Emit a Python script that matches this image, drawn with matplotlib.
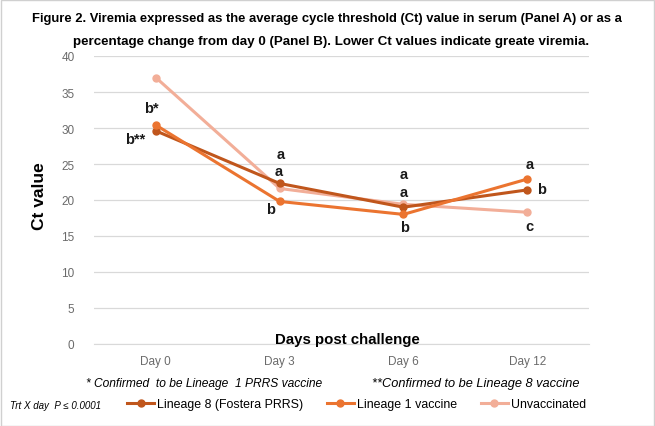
import numpy as np
import matplotlib
matplotlib.use("Agg")
from matplotlib import pyplot as plt

days = ['Day 0', 'Day 3', 'Day 6', 'Day 12']
lineage8 = [29.6, 22.3, 19.0, 21.4]
lineage1 = [30.4, 19.8, 18.0, 22.9]
unvacc = [37.0, 21.6, 19.4, 18.3]
series_names = ['Lineage 8 (Fostera PRRS)', 'Lineage 1 vaccine', 'Unvaccinated']
colors = ['#C0561C', '#EB7430', '#F2AE98']

# significance letters: (text, category index offset, y)
letters = [('b*', -0.04, 32.8), ('b**', -0.17, 28.5),
           ('a', 1.01, 26.4), ('a', 0.99, 24.0), ('b', 0.93, 18.7),
           ('a', 2.0, 23.6), ('a', 2.0, 21.1), ('b', 2.01, 16.2),
           ('a', 3.02, 25.0), ('b', 3.12, 21.5), ('c', 3.02, 16.4)]

plt.rcParams['font.family'] = ['Liberation Sans', 'DejaVu Sans']

W, H = 655, 427
fig = plt.figure(figsize=(W / 100, H / 100), dpi=100)
ax = fig.add_axes([94 / W, 1 - 345 / H, (589 - 94) / W, (345 - 57) / H])


def fit_text(t, width_px):
    # shrink/grow a text so that it spans the given width in pixels
    r = fig.canvas.get_renderer()
    w = t.get_window_extent(r).width
    t.set_fontsize(t.get_fontsize() * width_px / w)


x = np.arange(len(days))
lines = []
for vals, c, name in zip([lineage8, lineage1, unvacc], colors, series_names):
    ln, = ax.plot(x, vals, color=c, lw=2.2, marker='o', ms=5, label=name)
    lines.append(ln)
for ln, z in zip(lines, [3, 4, 2]):
    ln.set_zorder(z)

ax.set_xlim(-0.5, 3.5)
ax.set_ylim(0, 40)
ax.set_yticks(range(0, 41, 5))
ax.set_xticks(x)
ax.set_xticklabels(days)
ax.grid(axis='y', color='#d9d9d9', lw=0.9)
ax.set_axisbelow(True)
for s in ['top', 'right', 'left']:
    ax.spines[s].set_visible(False)
ax.spines['bottom'].set_color('#d9d9d9')
ax.tick_params(axis='both', length=0, colors='#6b6b6b', labelsize=8.5, pad=8)
ax.tick_params(axis='y', pad=14)

for t, xx, yy in letters:
    ax.text(xx, yy, t, ha='center', va='center', fontsize=10.5,
            fontweight='bold', color='#1a1a1a')

fig.text(40 / W, 1 - 196 / H, 'Ct value', rotation=90, ha='center', va='center',
         fontsize=12.5, fontweight='bold')
t = fig.text(347 / W, 1 - 340 / H, 'Days post challenge', ha='center', va='center',
             fontsize=11, fontweight='bold')
fit_text(t, 146)

t = fig.text(327 / W, 1 - 19 / H, 'Figure 2. Viremia expressed as the average cycle threshold (Ct) value in serum (Panel A) or as a',
             ha='center', va='center', fontsize=9, fontweight='bold')
fit_text(t, 592)
t = fig.text(331 / W, 1 - 42 / H, 'percentage change from day 0 (Panel B). Lower Ct values indicate greate viremia.',
             ha='center', va='center', fontsize=9, fontweight='bold')
fit_text(t, 517)

t = fig.text(204 / W, 1 - 384 / H, '* Confirmed  to be Lineage  1 PRRS vaccine', ha='center', va='center',
             fontsize=9, style='italic')
fit_text(t, 238)
t = fig.text(476 / W, 1 - 384 / H, '**Confirmed to be Lineage 8 vaccine', ha='center', va='center',
             fontsize=9, style='italic')
fit_text(t, 207)
t = fig.text(10 / W, 1 - 406 / H, 'Trt X day  P \u2264 0.0001', ha='left', va='center',
             fontsize=7, style='italic')
fit_text(t, 92)

fig.legend(handles=lines, loc='center left', bbox_to_anchor=(127 / W, 1 - 405 / H), ncol=3,
           frameon=False, fontsize=8.9, handlelength=2.2, handletextpad=0.25,
           columnspacing=1.9, borderaxespad=0, borderpad=0)

fig.patches.append(plt.Rectangle((0.5 / W, 0.5 / H), 1 - 1.5 / W, 1 - 1.5 / H, transform=fig.transFigure,
                                 fill=False, edgecolor='#d0d0d0', lw=1))

fig.savefig('out.png', dpi=100)
